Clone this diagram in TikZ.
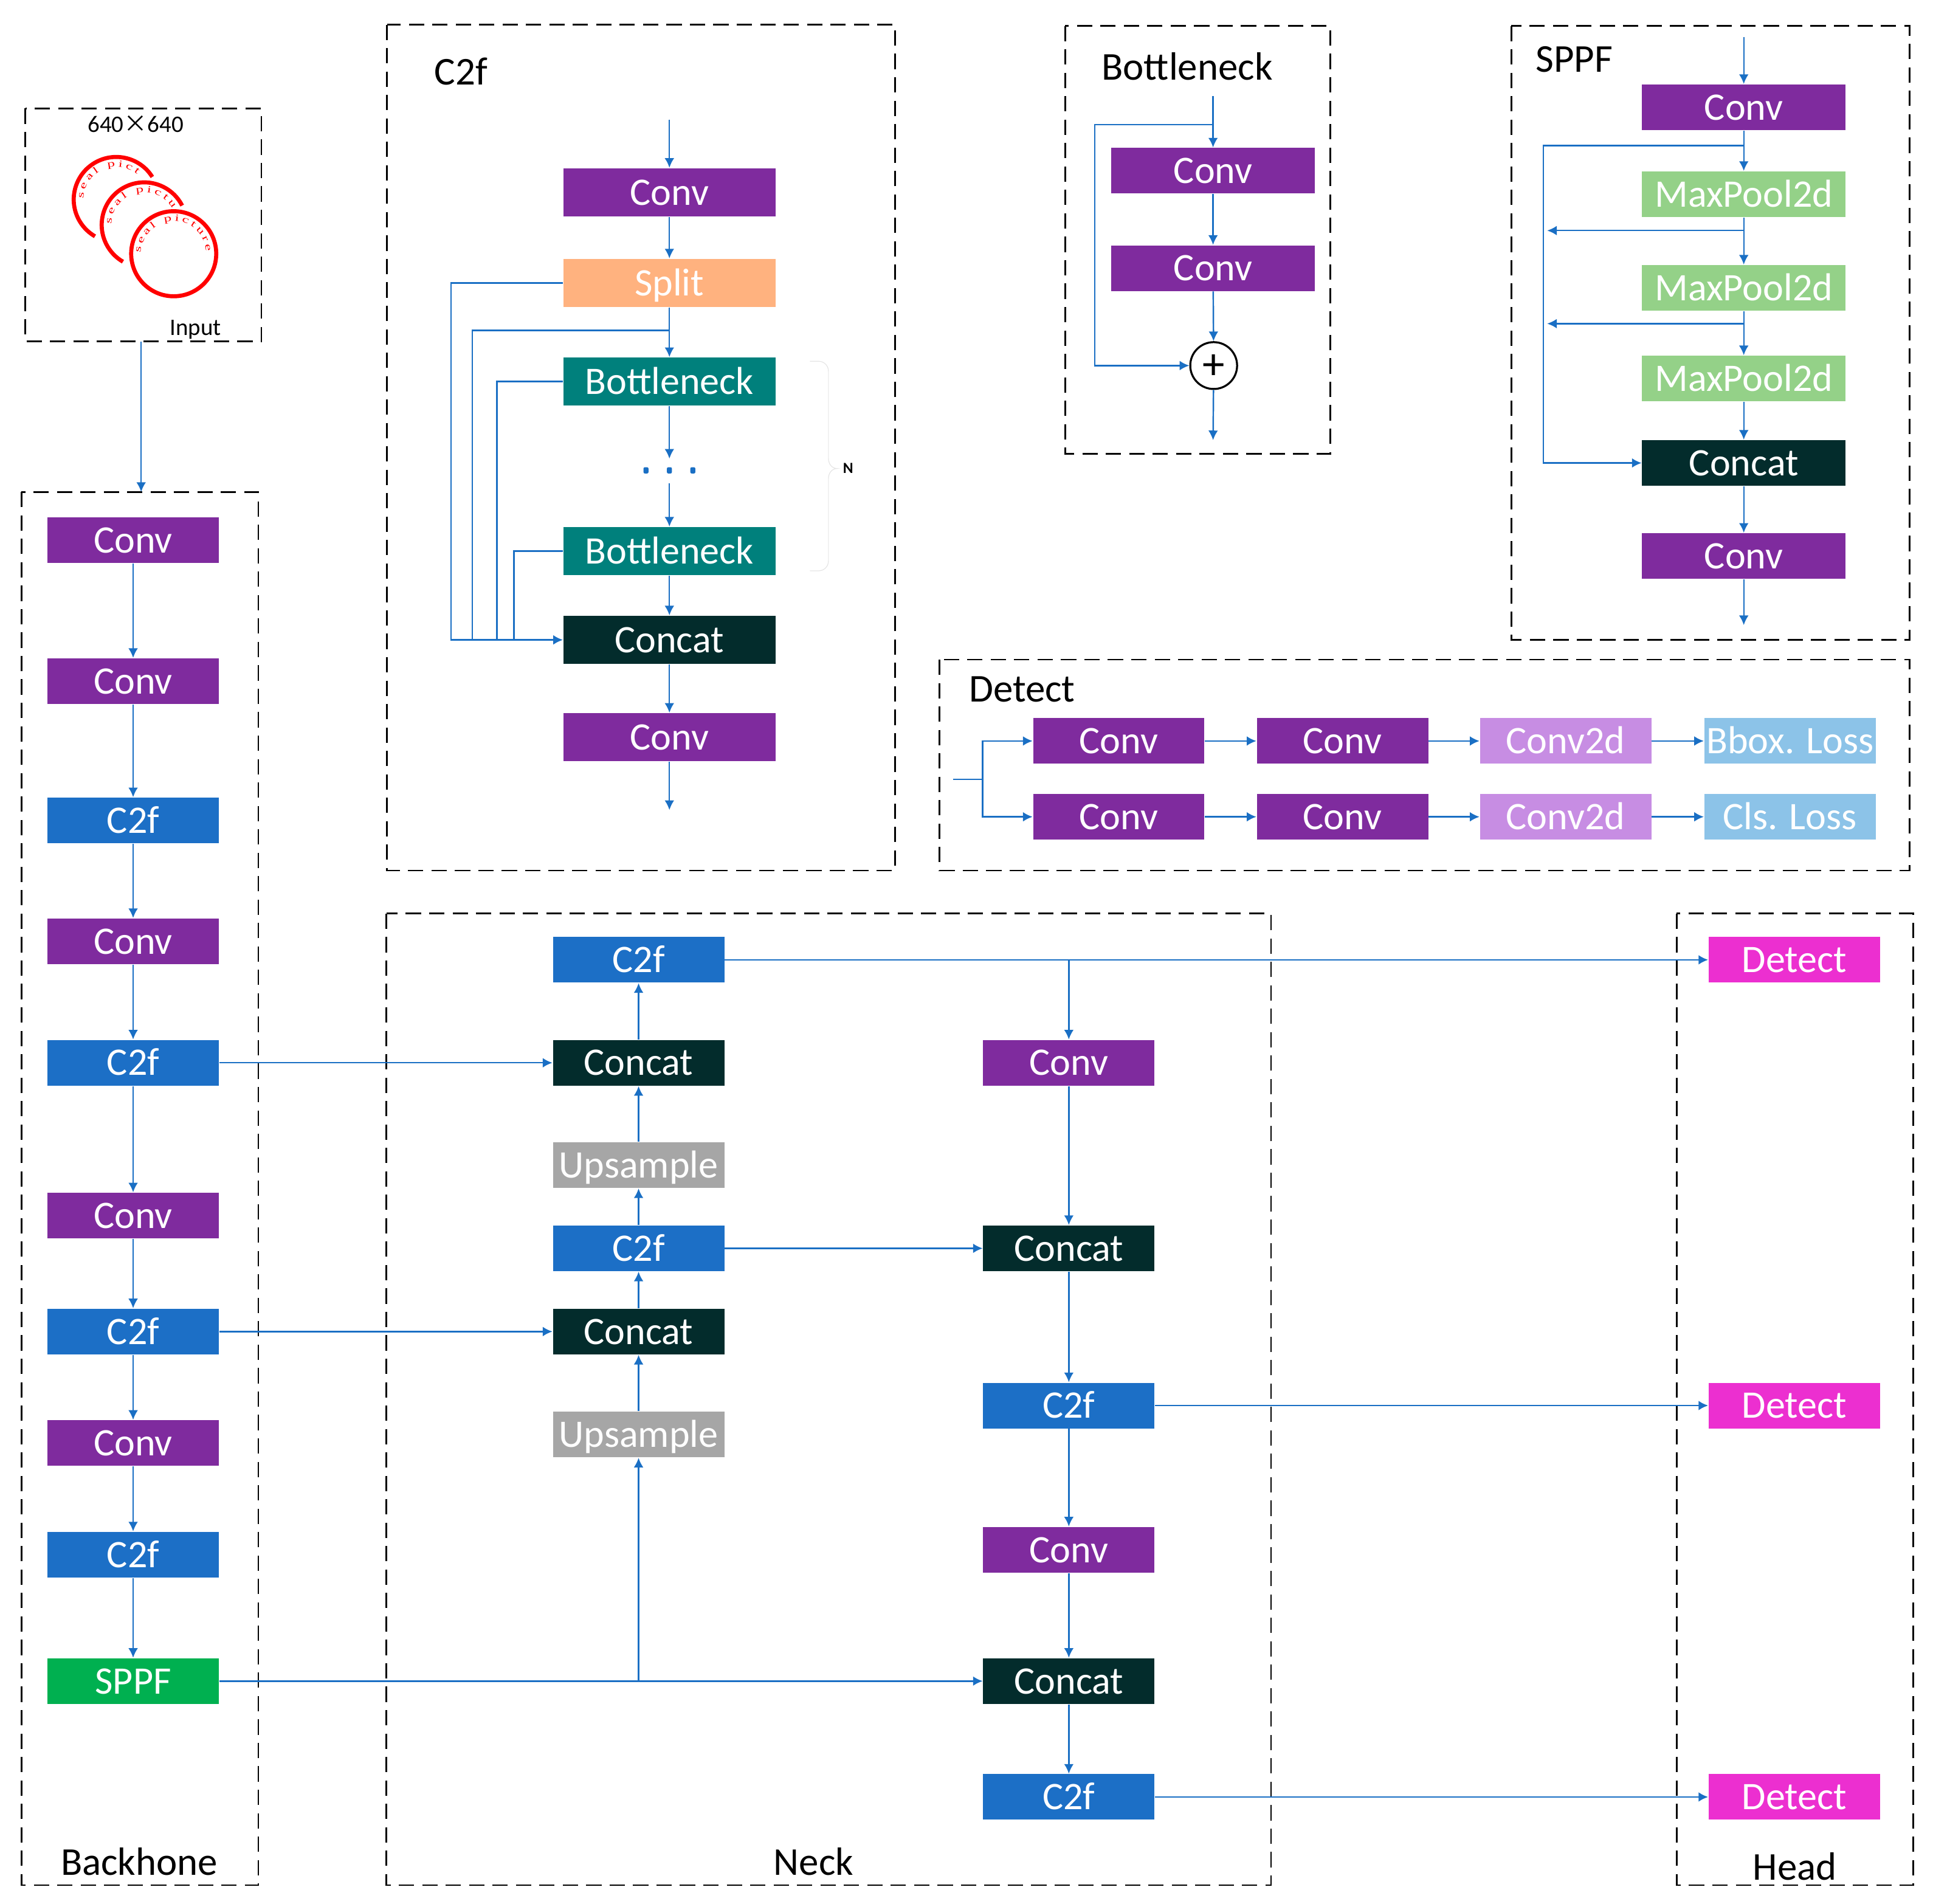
\documentclass[tikz,border=0pt]{standalone}
\usepackage{fontspec}
\setmainfont{Carlito}
\newfontfamily\cjk{Noto Sans CJK SC}
\newfontfamily\sealfont[FakeStretch=1.6]{Liberation Serif}
\usetikzlibrary{arrows.meta, positioning, decorations.text}

\definecolor{convc}{HTML}{7F2B9E}
\definecolor{cfc}{HTML}{1C6FC6}
\definecolor{concatc}{HTML}{032C2C}
\definecolor{bottlec}{HTML}{00807C}
\definecolor{splitc}{HTML}{FFB27F}
\definecolor{poolc}{HTML}{94D188}
\definecolor{upc}{HTML}{A6A6A6}
\definecolor{sppfc}{HTML}{00B050}
\definecolor{detc}{HTML}{EC2FD0}
\definecolor{convtc}{HTML}{C78DE3}
\definecolor{lossc}{HTML}{8CC3E8}
\definecolor{linec}{HTML}{1A6FC4}
\definecolor{sealc}{HTML}{FF0000}

\begin{document}
\begin{tikzpicture}[x=0.5pt,y=-0.5pt,on grid,>={Latex[length=3.9pt,width=3.9pt]},
  box/.style={minimum width=69.5pt,minimum height=18.5pt,inner sep=0pt,text=white,text height=10.2pt,text depth=0pt,font=\fontsize{15.8}{18}\selectfont},
  mid/.style={minimum width=82.5pt},
  wide/.style={minimum width=86pt,minimum height=19.5pt},
  conv/.style={box,fill=convc},
  cf/.style={box,fill=cfc},
  concat/.style={box,fill=concatc},
  bottle/.style={box,wide,fill=bottlec},
  split/.style={box,wide,fill=splitc},
  pool/.style={box,mid,fill=poolc},
  upsample/.style={box,fill=upc},
  sppf/.style={box,fill=sppfc},
  det/.style={box,fill=detc},
  convt/.style={box,fill=convtc},
  loss/.style={box,fill=lossc},
  frame/.style={draw=black,line width=0.66pt,dash pattern=on 6.2pt off 3.3pt},
  title/.style={inner sep=0pt,font=\fontsize{16}{18}\selectfont},
  small/.style={inner sep=0pt,font=\fontsize{9.6}{12}\selectfont},
  link/.style={color=linec,line width=0.6pt},
  seal/.style={draw=sealc,line width=1.65pt}]
  \useasboundingbox (0,0) rectangle (1568,1544.3);

  % frames
  \draw[frame] (20.5,88) rectangle (212,277);
  \draw[frame] (17.5,399) rectangle (209.5,1529);
  \draw[frame] (314,20) rectangle (726,706);
  \draw[frame] (864,21) rectangle (1079,368);
  \draw[frame] (1226,21) rectangle (1549,519);
  \draw[frame] (762,535) rectangle (1549,706);
  \draw[frame] (313.5,741) rectangle (1031,1529);
  \draw[frame] (1360,741) rectangle (1552,1529);

  % input
  \node[small] (size) at (110,100.5) {640{\cjk ×}640};
  \node[small] (input) at (158.5,267.5) {Input};
  \draw[seal] (94.3,161.8) ++(-32:34.5) arc (-32:-240:34.5);
  \draw[seal] (117,182.4) ++(-27:34.5) arc (-27:-240:34.5);
  \draw[seal] (140.9,205.8) circle (34.5);
  \foreach \cx/\cy/\ang/\txt in {94.3/161.8/50/seal pict,117/182.4/30/seal pictu,140.9/205.8/4/seal picture}
    \path[decorate,decoration={text along path,text align={fit to path},
      text={|\sealfont\fontsize{3.9}{5}\selectfont\color{sealc}|\txt}}]
      (\cx,\cy) ++(-178:26.5) arc (-178:-\ang:26.5);

  % backbone
  \node[conv] (b_0) at (108,438) {Conv};
  \node[conv] (b_1) [below=57.25pt of b_0] {Conv};
  \node[cf] (b_2) [below=56.5pt of b_1] {C2f};
  \node[conv] (b_3) [below=49pt of b_2] {Conv};
  \node[cf] (b_4) [below=49.25pt of b_3] {C2f};
  \node[conv] (b_5) [below=62pt of b_4] {Conv};
  \node[cf] (b_6) [below=47pt of b_5] {C2f};
  \node[conv] (b_7) [below=45.25pt of b_6] {Conv};
  \node[cf] (b_8) [below=45.25pt of b_7] {C2f};
  \node[sppf] (b_9) [below=51.25pt of b_8] {SPPF};
  \node[title] (backbone) at (113,1510) {Backhone};

  % c2f
  \node[title] (cftitle) at (374,58) {C2f};
  \node[conv,wide] (c_0) at (543,156) {Conv};
  \node[split] (c_1) [below=36.75pt of c_0] {Split};
  \node[bottle] (c_2) [below=40pt of c_1] {Bottleneck};
  \node[bottle] (c_3) [below=68.75pt of c_2] {Bottleneck};
  \node[concat,wide] (c_4) [below=36pt of c_3] {Concat};
  \node[conv,wide] (c_5) [below=39.5pt of c_4] {Conv};
  \node[inner sep=0pt,font=\bfseries\fontsize{6.3}{7}\selectfont] (rep) at (688,380) {N};
  \coordinate (c_in) at (543,97);
  \coordinate (c_out) at (543,657);
  \coordinate (c_tap) at (543,268);
  \coordinate (c_up) at (543,372);
  \coordinate (c_down) at (543,392);
  \coordinate (e_0) at (366,519);
  \coordinate (e_1) at (383,519);
  \coordinate (e_2) at (403,519);
  \coordinate (e_3) at (417,519);
  \foreach \x in {524,543,562}
    \fill[linec,rounded corners=0.5pt] (\x-2,379) rectangle (\x+2,384);
  \draw[black!10,line width=0.3pt] (657,293) -- (664,293) to[out=0,in=90] (672,301) -- (672,372)
    to[out=-90,in=180] (679,380) to[out=180,in=90] (672,388) -- (672,455) to[out=-90,in=0] (664,463) -- (657,463);

  % bottleneck
  \node[title] (bntitle) at (963,54) {Bottleneck};
  \node[conv,mid] (k_0) at (984,138.5) {Conv};
  \node[conv,mid] (k_1) [below=39.5pt of k_0] {Conv};
  \node[draw=black,fill=white,circle,line width=0.8pt,minimum size=19pt,inner sep=0pt,text height=11pt,text depth=0pt,font=\fontsize{18}{18}\selectfont] (k_2) at (984.5,296.5) {+};
  \coordinate (k_in) at (984,78);
  \coordinate (k_tap) at (984,101);
  \coordinate (k_side) at (888,296.5);
  \coordinate (k_out) at (984,357);

  % sppf
  \node[title] (sptitle) at (1277,48) {SPPF};
  \node[conv,mid] (s_0) at (1414.5,87) {Conv};
  \node[pool] (s_1) [below=35.25pt of s_0] {MaxPool2d};
  \node[pool] (s_2) [below=38pt of s_1] {MaxPool2d};
  \node[pool] (s_3) [below=36.75pt of s_2] {MaxPool2d};
  \node[concat,mid] (s_4) [below=34.25pt of s_3] {Concat};
  \node[conv,mid] (s_5) [below=37.75pt of s_4] {Conv};
  \coordinate (s_in) at (1414.5,30);
  \coordinate (s_out) at (1414.5,507);
  \coordinate (t_0) at (1414.5,118);
  \coordinate (t_1) at (1414.5,187);
  \coordinate (t_2) at (1414.5,262.5);
  \coordinate (u_0) at (1252,375.5);
  \coordinate (u_1) at (1255,187);
  \coordinate (u_2) at (1255,262.5);

  % detect
  \node[title] (dttitle) at (829,559) {Detect};
  \node[conv] (d_0) at (907.5,601) {Conv};
  \node[conv] (d_1) [right=90.75pt of d_0] {Conv};
  \node[convt] (d_2) [right=90.5pt of d_1] {Conv2d};
  \node[loss] (d_3) [right=91pt of d_2] {Bbox. Loss};
  \node[conv] (d_4) [below=30.75pt of d_0] {Conv};
  \node[conv] (d_5) [right=90.75pt of d_4] {Conv};
  \node[convt] (d_6) [right=90.5pt of d_5] {Conv2d};
  \node[loss] (d_7) [right=91pt of d_6] {Cls. Loss};
  \coordinate (d_in) at (773,632);
  \coordinate (d_fork) at (797,632);

  % neck
  \node[title] (necktitle) at (660,1510) {Neck};
  \node[cf] (n_0) at (518,778.5) {C2f};
  \node[concat] (n_1) [below=41.75pt of n_0] {Concat};
  \node[upsample] (n_2) [below=41.5pt of n_1] {Upsample};
  \node[cf] (n_3) [below=33.75pt of n_2] {C2f};
  \node[concat] (n_4) [below=33.75pt of n_3] {Concat};
  \node[upsample] (n_5) [below=41.75pt of n_4] {Upsample};
  \node[conv] (m_0) [right=174.5pt of n_1] {Conv};
  \node[concat] (m_1) [below=75.25pt of m_0] {Concat};
  \node[cf] (m_2) [below=63.75pt of m_1] {C2f};
  \node[conv] (m_3) [below=58.5pt of m_2] {Conv};
  \node[concat] (m_4) [below=53.25pt of m_3] {Concat};
  \node[cf] (m_5) [below=47pt of m_4] {C2f};
  \coordinate (n_tap) at (867,778.5);
  \coordinate (m_tap) at (518,1363.5);

  % head
  \node[title] (headtitle) at (1456,1514) {Head};
  \node[det] (h_0) at (1455.5,778.5) {Detect};
  \node[det] (h_1) [below=180.75pt of h_0] {Detect};
  \node[det] (h_2) [below=158.75pt of h_1] {Detect};

  \coordinate (i_0) at (114.5,277);
  \coordinate (i_1) at (114.5,399);

  \path[->,link] (i_0) edge (i_1)
            (b_0) edge (b_1)
            (b_1) edge (b_2)
            (b_2) edge (b_3)
            (b_3) edge (b_4)
            (b_4) edge (b_5)
                  edge (n_1)
            (b_5) edge (b_6)
            (b_6) edge (b_7)
                  edge (n_4)
            (b_7) edge (b_8)
            (b_8) edge (b_9)
            (b_9) edge (m_4)
            (m_tap) edge (n_5)
            (n_5) edge (n_4)
            (n_4) edge (n_3)
            (n_3) edge (n_2)
                  edge (m_1)
            (n_2) edge (n_1)
            (n_1) edge (n_0)
            (n_0) edge (h_0)
            (n_tap) edge (m_0)
            (m_0) edge (m_1)
            (m_1) edge (m_2)
            (m_2) edge (m_3)
                  edge (h_1)
            (m_3) edge (m_4)
            (m_4) edge (m_5)
            (m_5) edge (h_2);

  \path[->,link] (c_in) edge (c_0)
            (c_0) edge (c_1)
            (c_1) edge (c_2)
            (c_2) edge (c_up)
            (c_down) edge (c_3)
            (c_3) edge (c_4)
            (c_4) edge (c_5)
            (c_5) edge (c_out);
  \draw[->,link] (c_1) -| (e_0) -- (c_4);
  \draw[link] (c_tap) -| (e_1);
  \draw[link] (c_2) -| (e_2);
  \draw[link] (c_3) -| (e_3);

  \path[->,link] (k_in) edge (k_0)
            (k_0) edge (k_1)
            (k_1) edge (k_2)
            (k_2) edge (k_out);
  \draw[->,link] (k_tap) -| (k_side) -- (k_2);

  \path[->,link] (s_in) edge (s_0)
            (s_0) edge (s_1)
            (s_1) edge (s_2)
            (s_2) edge (s_3)
            (s_3) edge (s_4)
            (s_4) edge (s_5)
            (s_5) edge (s_out)
            (t_1) edge (u_1)
            (t_2) edge (u_2);
  \draw[->,link] (t_0) -| (u_0) -- (s_4);

  \path[->,link] (d_0) edge (d_1)
            (d_1) edge (d_2)
            (d_2) edge (d_3)
            (d_4) edge (d_5)
            (d_5) edge (d_6)
            (d_6) edge (d_7);
  \draw[link] (d_in) -- (d_fork);
  \draw[->,link] (d_fork) |- (d_0);
  \draw[->,link] (d_fork) |- (d_4);
\end{tikzpicture}
\end{document}
